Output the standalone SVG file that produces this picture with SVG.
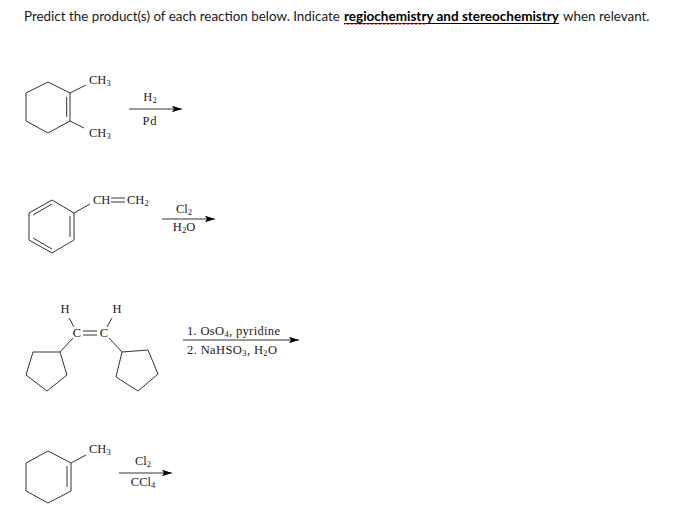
<svg xmlns="http://www.w3.org/2000/svg" width="688" height="522" viewBox="0 0 688 522">
<style>
.title{font-family:Lato,"Noto Sans",sans-serif;font-size:13.4px;fill:#1a1a1a}
.b{font-weight:700;fill:#000;font-size:13.5px}
.e{font-size:13.4px}
.t{font-family:"Liberation Serif",serif;font-size:12.5px;fill:#222}
.s{font-size:8.5px}
.bond{fill:none;stroke:#333;stroke-width:1}
.arrow{stroke:#777;stroke-width:1.5;fill:none;marker-end:url(#ah)}
</style>
<defs>
<marker id="ah" markerUnits="userSpaceOnUse" markerWidth="11" markerHeight="7" refX="10" refY="3.5" orient="auto">
<path d="M0,0.2 L10,3.5 L0,6.8 L2,3.5 Z" fill="#000"/>
</marker>
</defs>
<rect width="688" height="522" fill="#fff"/>
<g id="title">
<text class="title" y="21"><tspan x="24">Predict the product(s) of each reaction below. Indicate</tspan><tspan class="b" x="344">regiochemistry and stereochemistry</tspan><tspan class="e" x="563">when relevant.</tspan></text>
<path d="M344,23.5 H559" stroke="#000" stroke-width="1"/>
<path d="M344,24.5 l2,-1 2,1 2,-1 2,1 2,-1 2,1 2,-1 2,1 2,-1 2,1 2,-1 2,1 2,-1 2,1 2,-1 2,1 2,-1 2,1 2,-1 2,1 2,-1 2,1 2,-1 2,1 2,-1 2,1 2,-1 2,1 2,-1 2,1 2,-1 2,1 2,-1 2,1 2,-1 2,1 2,-1 2,1 2,-1 2,1 2,-1" fill="none" stroke="#d33" stroke-width="0.8"/>
</g>
<g id="connectors">
<path class="arrow" d="M129,109 H182"/>
<path class="arrow" d="M162,219 H215"/>
<path class="arrow" d="M183,340 H299"/>
<path class="arrow" d="M119,473 H172"/>
</g>
<g id="reactant-1">
<path class="bond" d="M48,82 L70,93 V121 L48,133 L26,121 V93 Z M66.7,97 V117 M70,93 L86,85 M70,121 L84,128"/>
<text class="t" x="89" y="84">CH<tspan class="s" dy="2">3</tspan></text>
<text class="t" x="89" y="137">CH<tspan class="s" dy="2">3</tspan></text>
</g>
<g id="reagents-1">
<text class="t" x="150" y="101" text-anchor="middle">H<tspan class="s" dy="2">2</tspan></text>
<text class="t" x="150" y="125" text-anchor="middle" letter-spacing="0.8">Pd</text>
</g>
<g id="reactant-2">
<path class="bond" d="M52,200 L74,213 V240 L52,253 L29,240 V213 Z M70,216 V237 M33,215 L52,204 M33,238 L52,249 M74,213 L90,204"/>
<path class="bond" d="M111,198 H125 M111,202 H125"/>
<text class="t" x="93" y="204">CH</text>
<text class="t" x="127" y="204">CH<tspan class="s" dy="2">2</tspan></text>
</g>
<g id="reagents-2">
<text class="t" x="184" y="213" text-anchor="middle">Cl<tspan class="s" dy="2">2</tspan></text>
<text class="t" x="184" y="231" text-anchor="middle">H<tspan class="s" dy="2">2</tspan><tspan dy="-2">O</tspan></text>
</g>
<g id="reactant-3">
<path class="bond" d="M60,352 L67,375 L47,391 L26,375 L33,352 Z M73,338 L60,352 M69,318 L74,327"/>
<path class="bond" d="M122,352 L148,350 L158,374 L138,391 L116,377 Z M109,338 L122,352 M112,318 L107,327"/>
<path class="bond" d="M83,331 H97 M83,335 H97"/>
<text class="t" x="65" y="313" text-anchor="middle">H</text>
<text class="t" x="117" y="313" text-anchor="middle">H</text>
<text class="t" x="77" y="337" text-anchor="middle">C</text>
<text class="t" x="104" y="337" text-anchor="middle">C</text>
</g>
<g id="reagents-3">
<text class="t" x="187" y="335" textLength="93" lengthAdjust="spacing">1. OsO<tspan class="s" dy="2">4</tspan><tspan dy="-2">, pyridine</tspan></text>
<text class="t" x="187" y="354" textLength="90" lengthAdjust="spacing">2. NaHSO<tspan class="s" dy="2">3</tspan><tspan dy="-2">, H</tspan><tspan class="s" dy="2">2</tspan><tspan dy="-2">O</tspan></text>
</g>
<g id="reactant-4">
<path class="bond" d="M48,451 L71,463 V491 L48,503 L26,491 V463 Z M67,466 V487 M71,463 L86,455"/>
<text class="t" x="89" y="453">CH<tspan class="s" dy="2">3</tspan></text>
</g>
<g id="reagents-4">
<text class="t" x="143" y="465" text-anchor="middle">Cl<tspan class="s" dy="2">2</tspan></text>
<text class="t" x="143" y="486" text-anchor="middle">CCl<tspan class="s" dy="2">4</tspan></text>
</g>
</svg>
